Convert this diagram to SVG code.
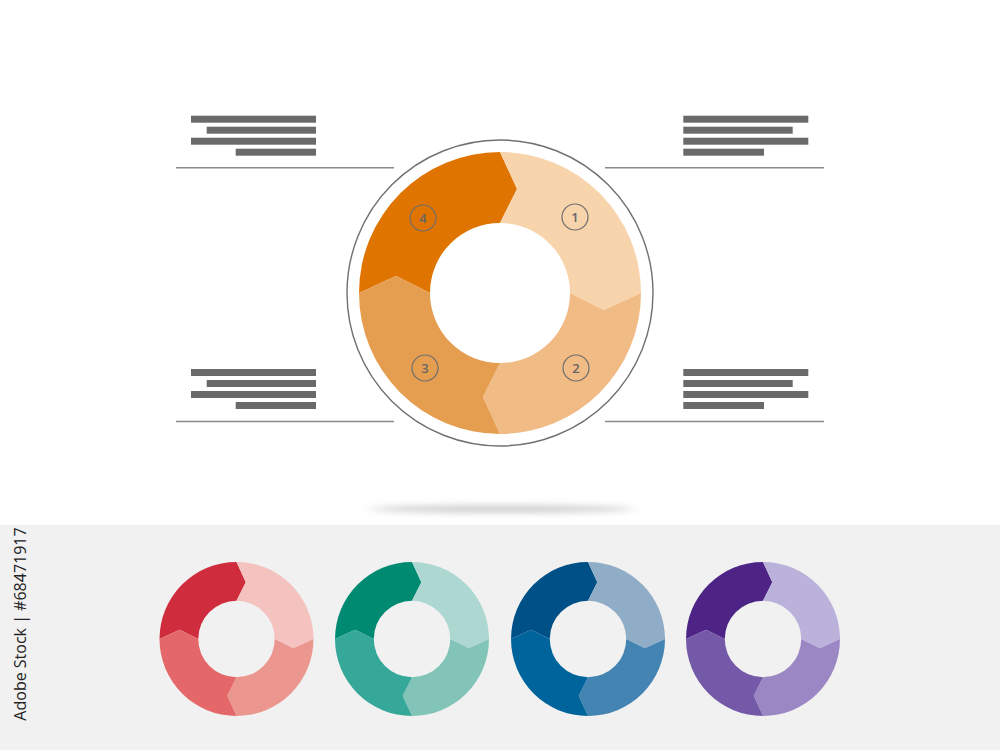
<svg xmlns="http://www.w3.org/2000/svg" xmlns:xlink="http://www.w3.org/1999/xlink" width="1000" height="750" viewBox="0 0 1000 750">
<style>
.bar{fill:#6a6a6a}
.rule{stroke:#8a8a8a;stroke-width:1.5;fill:none}
.num{fill:none;stroke:#6e6e6e;stroke-width:1.2}
.numt{font-family:"Open Sans","Liberation Sans",sans-serif;font-size:13px;fill:#666;text-anchor:middle;font-weight:600}
</style>
<defs>
<path id="seg" d="M-141,0 A141,141 0 0 1 0,-141 L17.05,-104.1 L0,-70 A70,70 0 0 0 -70,0 L-104.1,-17.05 Z"/>
<filter id="blur" x="-50%" y="-200%" width="200%" height="500%"><feGaussianBlur stdDeviation="8 3"/></filter>
</defs>
<rect width="1000" height="750" fill="#ffffff"/>
<rect x="0" y="525" width="1000" height="225" fill="#f1f1f1"/>
<ellipse cx="502" cy="509" rx="132" ry="4" fill="#d0d0d0" filter="url(#blur)"/>

<g id="text-top-left">
<rect class="bar" x="191" y="115.7" width="125" height="7"/>
<rect class="bar" x="206.7" y="126.7" width="109.3" height="7"/>
<rect class="bar" x="191" y="137.7" width="125" height="7"/>
<rect class="bar" x="235.7" y="148.7" width="80.3" height="7"/>
<line class="rule" x1="176" y1="167.7" x2="394" y2="167.7"/>
</g>
<g id="text-top-right">
<rect class="bar" x="683.3" y="115.7" width="125" height="7"/>
<rect class="bar" x="683.3" y="126.7" width="109.4" height="7"/>
<rect class="bar" x="683.3" y="137.7" width="125" height="7"/>
<rect class="bar" x="683.3" y="148.7" width="80.7" height="7"/>
<line class="rule" x1="605" y1="167.7" x2="824" y2="167.7"/>
</g>
<g id="text-bottom-left">
<rect class="bar" x="191" y="369" width="125" height="7"/>
<rect class="bar" x="206.7" y="380" width="109.3" height="7"/>
<rect class="bar" x="191" y="391" width="125" height="7"/>
<rect class="bar" x="235.7" y="402" width="80.3" height="7"/>
<line class="rule" x1="176" y1="421.5" x2="394" y2="421.5"/>
</g>
<g id="text-bottom-right">
<rect class="bar" x="683.3" y="369" width="125" height="7"/>
<rect class="bar" x="683.3" y="380" width="109.4" height="7"/>
<rect class="bar" x="683.3" y="391" width="125" height="7"/>
<rect class="bar" x="683.3" y="402" width="80.7" height="7"/>
<line class="rule" x1="605" y1="421.5" x2="824" y2="421.5"/>
</g>

<g id="main-donut">
<circle cx="500" cy="293" r="153" fill="#ffffff" stroke="#707070" stroke-width="1.4"/>
<g transform="translate(500,293)">
<use xlink:href="#seg" href="#seg" fill="#e07400"/>
<use xlink:href="#seg" href="#seg" fill="#f8d4ac" transform="rotate(90)"/>
<use xlink:href="#seg" href="#seg" fill="#f0bb84" transform="rotate(180)"/>
<use xlink:href="#seg" href="#seg" fill="#e59e50" transform="rotate(270)"/>
</g>
<g id="label-1"><circle class="num" cx="575" cy="217" r="13"/><text class="numt" x="575" y="221.7">1</text></g>
<g id="label-2"><circle class="num" cx="576" cy="368" r="13"/><text class="numt" x="576" y="372.7">2</text></g>
<g id="label-3"><circle class="num" cx="425" cy="368" r="13"/><text class="numt" x="425" y="372.7">3</text></g>
<g id="label-4"><circle class="num" cx="423" cy="218" r="13"/><text class="numt" x="423" y="222.7">4</text></g>
</g>

<g id="donut-red" transform="translate(236.5,639) scale(0.546)">
<use xlink:href="#seg" href="#seg" fill="#cf2d3e"/>
<use xlink:href="#seg" href="#seg" fill="#f4c2bf" transform="rotate(90)"/>
<use xlink:href="#seg" href="#seg" fill="#ec9690" transform="rotate(180)"/>
<use xlink:href="#seg" href="#seg" fill="#e46769" transform="rotate(270)"/>
</g>
<g id="donut-teal" transform="translate(412,639) scale(0.546)">
<use xlink:href="#seg" href="#seg" fill="#008a72"/>
<use xlink:href="#seg" href="#seg" fill="#acd8d1" transform="rotate(90)"/>
<use xlink:href="#seg" href="#seg" fill="#82c4b8" transform="rotate(180)"/>
<use xlink:href="#seg" href="#seg" fill="#35a899" transform="rotate(270)"/>
</g>
<g id="donut-blue" transform="translate(588,639) scale(0.546)">
<use xlink:href="#seg" href="#seg" fill="#005088"/>
<use xlink:href="#seg" href="#seg" fill="#90adc8" transform="rotate(90)"/>
<use xlink:href="#seg" href="#seg" fill="#4484b3" transform="rotate(180)"/>
<use xlink:href="#seg" href="#seg" fill="#00649c" transform="rotate(270)"/>
</g>
<g id="donut-purple" transform="translate(763,639) scale(0.546)">
<use xlink:href="#seg" href="#seg" fill="#4d2485"/>
<use xlink:href="#seg" href="#seg" fill="#bab2db" transform="rotate(90)"/>
<use xlink:href="#seg" href="#seg" fill="#9a87c4" transform="rotate(180)"/>
<use xlink:href="#seg" href="#seg" fill="#7459a8" transform="rotate(270)"/>
</g>

<text transform="translate(26,624) rotate(-90)" font-family="'Open Sans','Liberation Sans',sans-serif" font-size="16" fill="#222" text-anchor="middle">Adobe Stock | #68471917</text>
</svg>
